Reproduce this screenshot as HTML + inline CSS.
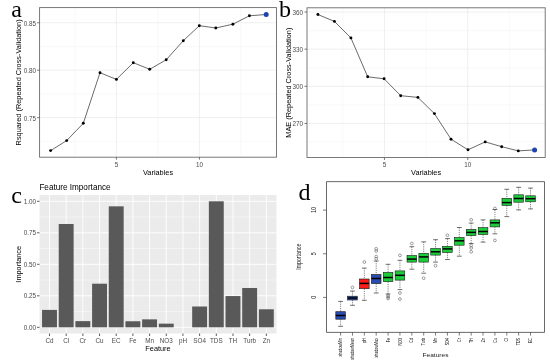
<!DOCTYPE html>
<html><head><meta charset="utf-8"><style>
html,body{margin:0;padding:0;background:#fff;}
body{width:550px;height:363px;overflow:hidden;font-family:"Liberation Sans", sans-serif;}
svg{display:block;will-change:transform;filter:blur(0.3px);}
</style></head><body>
<svg width="550" height="363" viewBox="0 0 550 363">
<rect x="0" y="0" width="550" height="363" fill="#fff"/>
<line x1="74.90" y1="7.60" x2="74.90" y2="157.20" stroke="#f2f2f2" stroke-width="0.5"/>
<line x1="157.90" y1="7.60" x2="157.90" y2="157.20" stroke="#f2f2f2" stroke-width="0.5"/>
<line x1="240.90" y1="7.60" x2="240.90" y2="157.20" stroke="#f2f2f2" stroke-width="0.5"/>
<line x1="39.60" y1="141.38" x2="276.50" y2="141.38" stroke="#f2f2f2" stroke-width="0.5"/>
<line x1="39.60" y1="93.93" x2="276.50" y2="93.93" stroke="#f2f2f2" stroke-width="0.5"/>
<line x1="39.60" y1="46.48" x2="276.50" y2="46.48" stroke="#f2f2f2" stroke-width="0.5"/>
<line x1="116.40" y1="7.60" x2="116.40" y2="157.20" stroke="#ebebeb" stroke-width="0.8"/>
<line x1="199.40" y1="7.60" x2="199.40" y2="157.20" stroke="#ebebeb" stroke-width="0.8"/>
<line x1="39.60" y1="117.65" x2="276.50" y2="117.65" stroke="#ebebeb" stroke-width="0.8"/>
<line x1="39.60" y1="70.20" x2="276.50" y2="70.20" stroke="#ebebeb" stroke-width="0.8"/>
<line x1="39.60" y1="22.75" x2="276.50" y2="22.75" stroke="#ebebeb" stroke-width="0.8"/>
<polyline points="50.60,150.60 66.70,140.60 83.30,123.30 100.00,72.70 116.40,79.40 133.30,62.70 149.70,69.30 166.20,59.80 183.30,40.70 199.30,25.70 215.80,28.00 232.90,24.20 249.40,15.80 266.20,14.50" fill="none" stroke="#3a3a3a" stroke-width="0.75"/>
<circle cx="50.60" cy="150.60" r="1.45" fill="#000"/>
<circle cx="66.70" cy="140.60" r="1.45" fill="#000"/>
<circle cx="83.30" cy="123.30" r="1.45" fill="#000"/>
<circle cx="100.00" cy="72.70" r="1.45" fill="#000"/>
<circle cx="116.40" cy="79.40" r="1.45" fill="#000"/>
<circle cx="133.30" cy="62.70" r="1.45" fill="#000"/>
<circle cx="149.70" cy="69.30" r="1.45" fill="#000"/>
<circle cx="166.20" cy="59.80" r="1.45" fill="#000"/>
<circle cx="183.30" cy="40.70" r="1.45" fill="#000"/>
<circle cx="199.30" cy="25.70" r="1.45" fill="#000"/>
<circle cx="215.80" cy="28.00" r="1.45" fill="#000"/>
<circle cx="232.90" cy="24.20" r="1.45" fill="#000"/>
<circle cx="249.40" cy="15.80" r="1.45" fill="#000"/>
<circle cx="266.20" cy="14.50" r="2.5" fill="#1c45b2"/>
<rect x="39.60" y="7.60" width="236.90" height="149.60" fill="none" stroke="#6a6a6a" stroke-width="0.9"/>
<line x1="37.10" y1="117.65" x2="39.60" y2="117.65" stroke="#555" stroke-width="0.8"/>
<text x="36.00" y="118.05" font-size="6.3" fill="#4a4a4a" text-anchor="end" dominant-baseline="central" font-family='"Liberation Sans", sans-serif'>0.75</text>
<line x1="37.10" y1="70.20" x2="39.60" y2="70.20" stroke="#555" stroke-width="0.8"/>
<text x="36.00" y="70.60" font-size="6.3" fill="#4a4a4a" text-anchor="end" dominant-baseline="central" font-family='"Liberation Sans", sans-serif'>0.80</text>
<line x1="37.10" y1="22.75" x2="39.60" y2="22.75" stroke="#555" stroke-width="0.8"/>
<text x="36.00" y="23.15" font-size="6.3" fill="#4a4a4a" text-anchor="end" dominant-baseline="central" font-family='"Liberation Sans", sans-serif'>0.85</text>
<line x1="116.40" y1="157.20" x2="116.40" y2="159.70" stroke="#555" stroke-width="0.8"/>
<text x="116.40" y="164.20" font-size="6.3" fill="#4a4a4a" text-anchor="middle" dominant-baseline="central" font-family='"Liberation Sans", sans-serif'>5</text>
<line x1="199.40" y1="157.20" x2="199.40" y2="159.70" stroke="#555" stroke-width="0.8"/>
<text x="199.40" y="164.20" font-size="6.3" fill="#4a4a4a" text-anchor="middle" dominant-baseline="central" font-family='"Liberation Sans", sans-serif'>10</text>
<text x="158.05" y="172.50" font-size="7.35" fill="#000" text-anchor="middle" dominant-baseline="central" font-family='"Liberation Sans", sans-serif'>Variables</text>
<text x="18.10" y="82.40" font-size="7.35" fill="#000" text-anchor="middle" dominant-baseline="central" font-family='"Liberation Sans", sans-serif' transform="rotate(-90 18.1 82.39999999999999)">Rsquared (Repeated Cross-Validation)</text>
<line x1="342.79" y1="7.80" x2="342.79" y2="157.50" stroke="#f2f2f2" stroke-width="0.5"/>
<line x1="426.09" y1="7.80" x2="426.09" y2="157.50" stroke="#f2f2f2" stroke-width="0.5"/>
<line x1="509.39" y1="7.80" x2="509.39" y2="157.50" stroke="#f2f2f2" stroke-width="0.5"/>
<line x1="307.00" y1="142.01" x2="545.20" y2="142.01" stroke="#f2f2f2" stroke-width="0.5"/>
<line x1="307.00" y1="104.87" x2="545.20" y2="104.87" stroke="#f2f2f2" stroke-width="0.5"/>
<line x1="307.00" y1="67.73" x2="545.20" y2="67.73" stroke="#f2f2f2" stroke-width="0.5"/>
<line x1="307.00" y1="30.59" x2="545.20" y2="30.59" stroke="#f2f2f2" stroke-width="0.5"/>
<line x1="384.44" y1="7.80" x2="384.44" y2="157.50" stroke="#ebebeb" stroke-width="0.8"/>
<line x1="467.74" y1="7.80" x2="467.74" y2="157.50" stroke="#ebebeb" stroke-width="0.8"/>
<line x1="307.00" y1="123.44" x2="545.20" y2="123.44" stroke="#ebebeb" stroke-width="0.8"/>
<line x1="307.00" y1="86.30" x2="545.20" y2="86.30" stroke="#ebebeb" stroke-width="0.8"/>
<line x1="307.00" y1="49.16" x2="545.20" y2="49.16" stroke="#ebebeb" stroke-width="0.8"/>
<line x1="307.00" y1="12.02" x2="545.20" y2="12.02" stroke="#ebebeb" stroke-width="0.8"/>
<polyline points="317.90,14.50 334.40,21.40 350.90,37.90 367.70,76.80 384.10,78.80 400.70,95.70 417.90,97.40 434.40,113.60 451.00,139.20 468.00,149.80 485.20,141.90 501.70,146.70 518.30,150.90 534.60,149.90" fill="none" stroke="#3a3a3a" stroke-width="0.75"/>
<circle cx="317.90" cy="14.50" r="1.45" fill="#000"/>
<circle cx="334.40" cy="21.40" r="1.45" fill="#000"/>
<circle cx="350.90" cy="37.90" r="1.45" fill="#000"/>
<circle cx="367.70" cy="76.80" r="1.45" fill="#000"/>
<circle cx="384.10" cy="78.80" r="1.45" fill="#000"/>
<circle cx="400.70" cy="95.70" r="1.45" fill="#000"/>
<circle cx="417.90" cy="97.40" r="1.45" fill="#000"/>
<circle cx="434.40" cy="113.60" r="1.45" fill="#000"/>
<circle cx="451.00" cy="139.20" r="1.45" fill="#000"/>
<circle cx="468.00" cy="149.80" r="1.45" fill="#000"/>
<circle cx="485.20" cy="141.90" r="1.45" fill="#000"/>
<circle cx="501.70" cy="146.70" r="1.45" fill="#000"/>
<circle cx="518.30" cy="150.90" r="1.45" fill="#000"/>
<circle cx="534.60" cy="149.90" r="2.5" fill="#1c45b2"/>
<rect x="307.00" y="7.80" width="238.20" height="149.70" fill="none" stroke="#6a6a6a" stroke-width="0.9"/>
<line x1="304.50" y1="123.44" x2="307.00" y2="123.44" stroke="#555" stroke-width="0.8"/>
<text x="303.10" y="123.84" font-size="6.3" fill="#4a4a4a" text-anchor="end" dominant-baseline="central" font-family='"Liberation Sans", sans-serif'>270</text>
<line x1="304.50" y1="86.30" x2="307.00" y2="86.30" stroke="#555" stroke-width="0.8"/>
<text x="303.10" y="86.70" font-size="6.3" fill="#4a4a4a" text-anchor="end" dominant-baseline="central" font-family='"Liberation Sans", sans-serif'>300</text>
<line x1="304.50" y1="49.16" x2="307.00" y2="49.16" stroke="#555" stroke-width="0.8"/>
<text x="303.10" y="49.56" font-size="6.3" fill="#4a4a4a" text-anchor="end" dominant-baseline="central" font-family='"Liberation Sans", sans-serif'>330</text>
<line x1="304.50" y1="12.02" x2="307.00" y2="12.02" stroke="#555" stroke-width="0.8"/>
<text x="303.10" y="12.42" font-size="6.3" fill="#4a4a4a" text-anchor="end" dominant-baseline="central" font-family='"Liberation Sans", sans-serif'>360</text>
<line x1="384.44" y1="157.50" x2="384.44" y2="160.00" stroke="#555" stroke-width="0.8"/>
<text x="384.44" y="164.50" font-size="6.3" fill="#4a4a4a" text-anchor="middle" dominant-baseline="central" font-family='"Liberation Sans", sans-serif'>5</text>
<line x1="467.74" y1="157.50" x2="467.74" y2="160.00" stroke="#555" stroke-width="0.8"/>
<text x="467.74" y="164.50" font-size="6.3" fill="#4a4a4a" text-anchor="middle" dominant-baseline="central" font-family='"Liberation Sans", sans-serif'>10</text>
<text x="426.10" y="172.80" font-size="7.35" fill="#000" text-anchor="middle" dominant-baseline="central" font-family='"Liberation Sans", sans-serif'>Variables</text>
<text x="288.30" y="82.65" font-size="7.35" fill="#000" text-anchor="middle" dominant-baseline="central" font-family='"Liberation Sans", sans-serif' transform="rotate(-90 288.3 82.65)">MAE (Repeated Cross-Validation)</text>
<rect x="39.50" y="195.00" width="237.00" height="138.50" fill="#ebebeb" stroke="none" stroke-width="0"/>
<line x1="39.50" y1="311.55" x2="276.50" y2="311.55" stroke="#f8f8f8" stroke-width="0.6"/>
<line x1="39.50" y1="280.05" x2="276.50" y2="280.05" stroke="#f8f8f8" stroke-width="0.6"/>
<line x1="39.50" y1="248.55" x2="276.50" y2="248.55" stroke="#f8f8f8" stroke-width="0.6"/>
<line x1="39.50" y1="217.05" x2="276.50" y2="217.05" stroke="#f8f8f8" stroke-width="0.6"/>
<line x1="39.50" y1="327.30" x2="276.50" y2="327.30" stroke="#ffffff" stroke-width="0.9"/>
<line x1="39.50" y1="295.80" x2="276.50" y2="295.80" stroke="#ffffff" stroke-width="0.9"/>
<line x1="39.50" y1="264.30" x2="276.50" y2="264.30" stroke="#ffffff" stroke-width="0.9"/>
<line x1="39.50" y1="232.80" x2="276.50" y2="232.80" stroke="#ffffff" stroke-width="0.9"/>
<line x1="39.50" y1="201.30" x2="276.50" y2="201.30" stroke="#ffffff" stroke-width="0.9"/>
<line x1="49.50" y1="195.00" x2="49.50" y2="333.50" stroke="#ffffff" stroke-width="0.9"/>
<line x1="66.18" y1="195.00" x2="66.18" y2="333.50" stroke="#ffffff" stroke-width="0.9"/>
<line x1="82.86" y1="195.00" x2="82.86" y2="333.50" stroke="#ffffff" stroke-width="0.9"/>
<line x1="99.54" y1="195.00" x2="99.54" y2="333.50" stroke="#ffffff" stroke-width="0.9"/>
<line x1="116.22" y1="195.00" x2="116.22" y2="333.50" stroke="#ffffff" stroke-width="0.9"/>
<line x1="132.90" y1="195.00" x2="132.90" y2="333.50" stroke="#ffffff" stroke-width="0.9"/>
<line x1="149.58" y1="195.00" x2="149.58" y2="333.50" stroke="#ffffff" stroke-width="0.9"/>
<line x1="166.26" y1="195.00" x2="166.26" y2="333.50" stroke="#ffffff" stroke-width="0.9"/>
<line x1="182.94" y1="195.00" x2="182.94" y2="333.50" stroke="#ffffff" stroke-width="0.9"/>
<line x1="199.62" y1="195.00" x2="199.62" y2="333.50" stroke="#ffffff" stroke-width="0.9"/>
<line x1="216.30" y1="195.00" x2="216.30" y2="333.50" stroke="#ffffff" stroke-width="0.9"/>
<line x1="232.98" y1="195.00" x2="232.98" y2="333.50" stroke="#ffffff" stroke-width="0.9"/>
<line x1="249.66" y1="195.00" x2="249.66" y2="333.50" stroke="#ffffff" stroke-width="0.9"/>
<line x1="266.34" y1="195.00" x2="266.34" y2="333.50" stroke="#ffffff" stroke-width="0.9"/>
<rect x="42.05" y="309.91" width="14.90" height="17.39" fill="#595959" stroke="none" stroke-width="0"/>
<rect x="58.73" y="223.98" width="14.90" height="103.32" fill="#595959" stroke="none" stroke-width="0"/>
<rect x="75.41" y="321.13" width="14.90" height="6.17" fill="#595959" stroke="none" stroke-width="0"/>
<rect x="92.09" y="283.70" width="14.90" height="43.60" fill="#595959" stroke="none" stroke-width="0"/>
<rect x="108.77" y="206.34" width="14.90" height="120.96" fill="#595959" stroke="none" stroke-width="0"/>
<rect x="125.45" y="321.25" width="14.90" height="6.05" fill="#595959" stroke="none" stroke-width="0"/>
<rect x="142.13" y="319.36" width="14.90" height="7.94" fill="#595959" stroke="none" stroke-width="0"/>
<rect x="158.81" y="323.65" width="14.90" height="3.65" fill="#595959" stroke="none" stroke-width="0"/>
<rect x="192.17" y="306.51" width="14.90" height="20.79" fill="#595959" stroke="none" stroke-width="0"/>
<rect x="208.85" y="201.30" width="14.90" height="126.00" fill="#595959" stroke="none" stroke-width="0"/>
<rect x="225.53" y="296.05" width="14.90" height="31.25" fill="#595959" stroke="none" stroke-width="0"/>
<rect x="242.21" y="287.99" width="14.90" height="39.31" fill="#595959" stroke="none" stroke-width="0"/>
<rect x="258.89" y="309.28" width="14.90" height="18.02" fill="#595959" stroke="none" stroke-width="0"/>
<line x1="37.00" y1="327.30" x2="39.50" y2="327.30" stroke="#333" stroke-width="0.8"/>
<text x="36.00" y="327.30" font-size="6.3" fill="#4a4a4a" text-anchor="end" dominant-baseline="central" font-family='"Liberation Sans", sans-serif'>0.00</text>
<line x1="37.00" y1="295.80" x2="39.50" y2="295.80" stroke="#333" stroke-width="0.8"/>
<text x="36.00" y="295.80" font-size="6.3" fill="#4a4a4a" text-anchor="end" dominant-baseline="central" font-family='"Liberation Sans", sans-serif'>0.25</text>
<line x1="37.00" y1="264.30" x2="39.50" y2="264.30" stroke="#333" stroke-width="0.8"/>
<text x="36.00" y="264.30" font-size="6.3" fill="#4a4a4a" text-anchor="end" dominant-baseline="central" font-family='"Liberation Sans", sans-serif'>0.50</text>
<line x1="37.00" y1="232.80" x2="39.50" y2="232.80" stroke="#333" stroke-width="0.8"/>
<text x="36.00" y="232.80" font-size="6.3" fill="#4a4a4a" text-anchor="end" dominant-baseline="central" font-family='"Liberation Sans", sans-serif'>0.75</text>
<line x1="37.00" y1="201.30" x2="39.50" y2="201.30" stroke="#333" stroke-width="0.8"/>
<text x="36.00" y="201.30" font-size="6.3" fill="#4a4a4a" text-anchor="end" dominant-baseline="central" font-family='"Liberation Sans", sans-serif'>1.00</text>
<line x1="49.50" y1="333.50" x2="49.50" y2="336.00" stroke="#333" stroke-width="0.8"/>
<text x="49.50" y="340.50" font-size="6.3" fill="#4a4a4a" text-anchor="middle" dominant-baseline="central" font-family='"Liberation Sans", sans-serif'>Cd</text>
<line x1="66.18" y1="333.50" x2="66.18" y2="336.00" stroke="#333" stroke-width="0.8"/>
<text x="66.18" y="340.50" font-size="6.3" fill="#4a4a4a" text-anchor="middle" dominant-baseline="central" font-family='"Liberation Sans", sans-serif'>Cl</text>
<line x1="82.86" y1="333.50" x2="82.86" y2="336.00" stroke="#333" stroke-width="0.8"/>
<text x="82.86" y="340.50" font-size="6.3" fill="#4a4a4a" text-anchor="middle" dominant-baseline="central" font-family='"Liberation Sans", sans-serif'>Cr</text>
<line x1="99.54" y1="333.50" x2="99.54" y2="336.00" stroke="#333" stroke-width="0.8"/>
<text x="99.54" y="340.50" font-size="6.3" fill="#4a4a4a" text-anchor="middle" dominant-baseline="central" font-family='"Liberation Sans", sans-serif'>Cu</text>
<line x1="116.22" y1="333.50" x2="116.22" y2="336.00" stroke="#333" stroke-width="0.8"/>
<text x="116.22" y="340.50" font-size="6.3" fill="#4a4a4a" text-anchor="middle" dominant-baseline="central" font-family='"Liberation Sans", sans-serif'>EC</text>
<line x1="132.90" y1="333.50" x2="132.90" y2="336.00" stroke="#333" stroke-width="0.8"/>
<text x="132.90" y="340.50" font-size="6.3" fill="#4a4a4a" text-anchor="middle" dominant-baseline="central" font-family='"Liberation Sans", sans-serif'>Fe</text>
<line x1="149.58" y1="333.50" x2="149.58" y2="336.00" stroke="#333" stroke-width="0.8"/>
<text x="149.58" y="340.50" font-size="6.3" fill="#4a4a4a" text-anchor="middle" dominant-baseline="central" font-family='"Liberation Sans", sans-serif'>Mn</text>
<line x1="166.26" y1="333.50" x2="166.26" y2="336.00" stroke="#333" stroke-width="0.8"/>
<text x="166.26" y="340.50" font-size="6.3" fill="#4a4a4a" text-anchor="middle" dominant-baseline="central" font-family='"Liberation Sans", sans-serif'>NO3</text>
<line x1="182.94" y1="333.50" x2="182.94" y2="336.00" stroke="#333" stroke-width="0.8"/>
<text x="182.94" y="340.50" font-size="6.3" fill="#4a4a4a" text-anchor="middle" dominant-baseline="central" font-family='"Liberation Sans", sans-serif'>pH</text>
<line x1="199.62" y1="333.50" x2="199.62" y2="336.00" stroke="#333" stroke-width="0.8"/>
<text x="199.62" y="340.50" font-size="6.3" fill="#4a4a4a" text-anchor="middle" dominant-baseline="central" font-family='"Liberation Sans", sans-serif'>SO4</text>
<line x1="216.30" y1="333.50" x2="216.30" y2="336.00" stroke="#333" stroke-width="0.8"/>
<text x="216.30" y="340.50" font-size="6.3" fill="#4a4a4a" text-anchor="middle" dominant-baseline="central" font-family='"Liberation Sans", sans-serif'>TDS</text>
<line x1="232.98" y1="333.50" x2="232.98" y2="336.00" stroke="#333" stroke-width="0.8"/>
<text x="232.98" y="340.50" font-size="6.3" fill="#4a4a4a" text-anchor="middle" dominant-baseline="central" font-family='"Liberation Sans", sans-serif'>TH</text>
<line x1="249.66" y1="333.50" x2="249.66" y2="336.00" stroke="#333" stroke-width="0.8"/>
<text x="249.66" y="340.50" font-size="6.3" fill="#4a4a4a" text-anchor="middle" dominant-baseline="central" font-family='"Liberation Sans", sans-serif'>Turb</text>
<line x1="266.34" y1="333.50" x2="266.34" y2="336.00" stroke="#333" stroke-width="0.8"/>
<text x="266.34" y="340.50" font-size="6.3" fill="#4a4a4a" text-anchor="middle" dominant-baseline="central" font-family='"Liberation Sans", sans-serif'>Zn</text>
<text x="158.00" y="348.00" font-size="7.35" fill="#000" text-anchor="middle" dominant-baseline="central" font-family='"Liberation Sans", sans-serif'>Feature</text>
<text x="18.60" y="264.25" font-size="7.35" fill="#000" text-anchor="middle" dominant-baseline="central" font-family='"Liberation Sans", sans-serif' transform="rotate(-90 18.6 264.25)">Importance</text>
<text x="39.40" y="187.70" font-size="8.16" fill="#000" text-anchor="start" dominant-baseline="central" font-family='"Liberation Sans", sans-serif'>Feature Importance</text>
<line x1="340.60" y1="301.40" x2="340.60" y2="311.70" stroke="#333" stroke-width="0.6" stroke-dasharray="1.2,1"/>
<line x1="340.60" y1="319.20" x2="340.60" y2="326.30" stroke="#333" stroke-width="0.6" stroke-dasharray="1.2,1"/>
<line x1="338.20" y1="301.40" x2="343.00" y2="301.40" stroke="#333" stroke-width="0.7"/>
<line x1="338.20" y1="326.30" x2="343.00" y2="326.30" stroke="#333" stroke-width="0.7"/>
<rect x="335.80" y="311.70" width="9.60" height="7.50" fill="#2a4bb0" stroke="#1a1a1a" stroke-width="0.6"/>
<line x1="335.80" y1="315.50" x2="345.40" y2="315.50" stroke="#000" stroke-width="1.5"/>
<line x1="352.47" y1="291.10" x2="352.47" y2="296.20" stroke="#333" stroke-width="0.6" stroke-dasharray="1.2,1"/>
<line x1="352.47" y1="300.00" x2="352.47" y2="305.30" stroke="#333" stroke-width="0.6" stroke-dasharray="1.2,1"/>
<line x1="350.07" y1="291.10" x2="354.87" y2="291.10" stroke="#333" stroke-width="0.7"/>
<line x1="350.07" y1="305.30" x2="354.87" y2="305.30" stroke="#333" stroke-width="0.7"/>
<rect x="347.67" y="296.20" width="9.60" height="3.80" fill="#2a4bb0" stroke="#1a1a1a" stroke-width="0.6"/>
<line x1="347.67" y1="298.00" x2="357.27" y2="298.00" stroke="#000" stroke-width="1.5"/>
<circle cx="352.47" cy="287.40" r="1.4" fill="none" stroke="#444" stroke-width="0.5"/>
<line x1="364.34" y1="268.10" x2="364.34" y2="279.00" stroke="#333" stroke-width="0.6" stroke-dasharray="1.2,1"/>
<line x1="364.34" y1="288.70" x2="364.34" y2="300.30" stroke="#333" stroke-width="0.6" stroke-dasharray="1.2,1"/>
<line x1="361.94" y1="268.10" x2="366.74" y2="268.10" stroke="#333" stroke-width="0.7"/>
<line x1="361.94" y1="300.30" x2="366.74" y2="300.30" stroke="#333" stroke-width="0.7"/>
<rect x="359.54" y="279.00" width="9.60" height="9.70" fill="#ff1a1a" stroke="#1a1a1a" stroke-width="0.6"/>
<line x1="359.54" y1="283.40" x2="369.14" y2="283.40" stroke="#000" stroke-width="1.5"/>
<circle cx="364.34" cy="262.00" r="1.4" fill="none" stroke="#444" stroke-width="0.5"/>
<line x1="376.21" y1="261.00" x2="376.21" y2="274.50" stroke="#333" stroke-width="0.6" stroke-dasharray="1.2,1"/>
<line x1="376.21" y1="283.60" x2="376.21" y2="293.00" stroke="#333" stroke-width="0.6" stroke-dasharray="1.2,1"/>
<line x1="373.81" y1="261.00" x2="378.61" y2="261.00" stroke="#333" stroke-width="0.7"/>
<line x1="373.81" y1="293.00" x2="378.61" y2="293.00" stroke="#333" stroke-width="0.7"/>
<rect x="371.41" y="274.50" width="9.60" height="9.10" fill="#2a4bb0" stroke="#1a1a1a" stroke-width="0.6"/>
<line x1="371.41" y1="278.50" x2="381.01" y2="278.50" stroke="#000" stroke-width="1.5"/>
<circle cx="376.21" cy="248.80" r="1.4" fill="none" stroke="#444" stroke-width="0.5"/>
<circle cx="376.21" cy="251.00" r="1.4" fill="none" stroke="#444" stroke-width="0.5"/>
<circle cx="376.21" cy="256.50" r="1.4" fill="none" stroke="#444" stroke-width="0.5"/>
<circle cx="376.21" cy="258.80" r="1.4" fill="none" stroke="#444" stroke-width="0.5"/>
<line x1="388.08" y1="264.30" x2="388.08" y2="272.40" stroke="#333" stroke-width="0.6" stroke-dasharray="1.2,1"/>
<line x1="388.08" y1="281.70" x2="388.08" y2="294.00" stroke="#333" stroke-width="0.6" stroke-dasharray="1.2,1"/>
<line x1="385.68" y1="264.30" x2="390.48" y2="264.30" stroke="#333" stroke-width="0.7"/>
<line x1="385.68" y1="294.00" x2="390.48" y2="294.00" stroke="#333" stroke-width="0.7"/>
<rect x="383.28" y="272.40" width="9.60" height="9.30" fill="#1ccc3a" stroke="#1a1a1a" stroke-width="0.6"/>
<line x1="383.28" y1="277.50" x2="392.88" y2="277.50" stroke="#000" stroke-width="1.5"/>
<circle cx="388.08" cy="295.50" r="1.4" fill="none" stroke="#444" stroke-width="0.5"/>
<circle cx="388.08" cy="297.00" r="1.4" fill="none" stroke="#444" stroke-width="0.5"/>
<circle cx="388.08" cy="298.50" r="1.4" fill="none" stroke="#444" stroke-width="0.5"/>
<line x1="399.95" y1="260.30" x2="399.95" y2="270.90" stroke="#333" stroke-width="0.6" stroke-dasharray="1.2,1"/>
<line x1="399.95" y1="280.10" x2="399.95" y2="289.60" stroke="#333" stroke-width="0.6" stroke-dasharray="1.2,1"/>
<line x1="397.55" y1="260.30" x2="402.35" y2="260.30" stroke="#333" stroke-width="0.7"/>
<line x1="397.55" y1="289.60" x2="402.35" y2="289.60" stroke="#333" stroke-width="0.7"/>
<rect x="395.15" y="270.90" width="9.60" height="9.20" fill="#1ccc3a" stroke="#1a1a1a" stroke-width="0.6"/>
<line x1="395.15" y1="275.30" x2="404.75" y2="275.30" stroke="#000" stroke-width="1.5"/>
<circle cx="399.95" cy="255.40" r="1.4" fill="none" stroke="#444" stroke-width="0.5"/>
<circle cx="399.95" cy="293.00" r="1.4" fill="none" stroke="#444" stroke-width="0.5"/>
<circle cx="399.95" cy="299.00" r="1.4" fill="none" stroke="#444" stroke-width="0.5"/>
<line x1="411.82" y1="246.70" x2="411.82" y2="255.50" stroke="#333" stroke-width="0.6" stroke-dasharray="1.2,1"/>
<line x1="411.82" y1="262.10" x2="411.82" y2="269.20" stroke="#333" stroke-width="0.6" stroke-dasharray="1.2,1"/>
<line x1="409.42" y1="246.70" x2="414.22" y2="246.70" stroke="#333" stroke-width="0.7"/>
<line x1="409.42" y1="269.20" x2="414.22" y2="269.20" stroke="#333" stroke-width="0.7"/>
<rect x="407.02" y="255.50" width="9.60" height="6.60" fill="#1ccc3a" stroke="#1a1a1a" stroke-width="0.6"/>
<line x1="407.02" y1="259.10" x2="416.62" y2="259.10" stroke="#000" stroke-width="1.5"/>
<circle cx="411.82" cy="243.50" r="1.4" fill="none" stroke="#444" stroke-width="0.5"/>
<line x1="423.69" y1="241.90" x2="423.69" y2="253.30" stroke="#333" stroke-width="0.6" stroke-dasharray="1.2,1"/>
<line x1="423.69" y1="262.10" x2="423.69" y2="273.20" stroke="#333" stroke-width="0.6" stroke-dasharray="1.2,1"/>
<line x1="421.29" y1="241.90" x2="426.09" y2="241.90" stroke="#333" stroke-width="0.7"/>
<line x1="421.29" y1="273.20" x2="426.09" y2="273.20" stroke="#333" stroke-width="0.7"/>
<rect x="418.89" y="253.30" width="9.60" height="8.80" fill="#1ccc3a" stroke="#1a1a1a" stroke-width="0.6"/>
<line x1="418.89" y1="256.90" x2="428.49" y2="256.90" stroke="#000" stroke-width="1.5"/>
<circle cx="423.69" cy="278.20" r="1.4" fill="none" stroke="#444" stroke-width="0.5"/>
<line x1="435.56" y1="239.70" x2="435.56" y2="248.50" stroke="#333" stroke-width="0.6" stroke-dasharray="1.2,1"/>
<line x1="435.56" y1="255.10" x2="435.56" y2="262.10" stroke="#333" stroke-width="0.6" stroke-dasharray="1.2,1"/>
<line x1="433.16" y1="239.70" x2="437.96" y2="239.70" stroke="#333" stroke-width="0.7"/>
<line x1="433.16" y1="262.10" x2="437.96" y2="262.10" stroke="#333" stroke-width="0.7"/>
<rect x="430.76" y="248.50" width="9.60" height="6.60" fill="#1ccc3a" stroke="#1a1a1a" stroke-width="0.6"/>
<line x1="430.76" y1="251.80" x2="440.36" y2="251.80" stroke="#000" stroke-width="1.5"/>
<circle cx="435.56" cy="265.70" r="1.4" fill="none" stroke="#444" stroke-width="0.5"/>
<line x1="447.43" y1="238.60" x2="447.43" y2="246.30" stroke="#333" stroke-width="0.6" stroke-dasharray="1.2,1"/>
<line x1="447.43" y1="252.50" x2="447.43" y2="259.50" stroke="#333" stroke-width="0.6" stroke-dasharray="1.2,1"/>
<line x1="445.03" y1="238.60" x2="449.83" y2="238.60" stroke="#333" stroke-width="0.7"/>
<line x1="445.03" y1="259.50" x2="449.83" y2="259.50" stroke="#333" stroke-width="0.7"/>
<rect x="442.63" y="246.30" width="9.60" height="6.20" fill="#1ccc3a" stroke="#1a1a1a" stroke-width="0.6"/>
<line x1="442.63" y1="248.90" x2="452.23" y2="248.90" stroke="#000" stroke-width="1.5"/>
<circle cx="447.43" cy="235.30" r="1.4" fill="none" stroke="#444" stroke-width="0.5"/>
<line x1="459.30" y1="227.50" x2="459.30" y2="237.50" stroke="#333" stroke-width="0.6" stroke-dasharray="1.2,1"/>
<line x1="459.30" y1="245.20" x2="459.30" y2="256.20" stroke="#333" stroke-width="0.6" stroke-dasharray="1.2,1"/>
<line x1="456.90" y1="227.50" x2="461.70" y2="227.50" stroke="#333" stroke-width="0.7"/>
<line x1="456.90" y1="256.20" x2="461.70" y2="256.20" stroke="#333" stroke-width="0.7"/>
<rect x="454.50" y="237.50" width="9.60" height="7.70" fill="#1ccc3a" stroke="#1a1a1a" stroke-width="0.6"/>
<line x1="454.50" y1="240.80" x2="464.10" y2="240.80" stroke="#000" stroke-width="1.5"/>
<line x1="471.17" y1="223.10" x2="471.17" y2="229.40" stroke="#333" stroke-width="0.6" stroke-dasharray="1.2,1"/>
<line x1="471.17" y1="235.60" x2="471.17" y2="243.50" stroke="#333" stroke-width="0.6" stroke-dasharray="1.2,1"/>
<line x1="468.77" y1="223.10" x2="473.57" y2="223.10" stroke="#333" stroke-width="0.7"/>
<line x1="468.77" y1="243.50" x2="473.57" y2="243.50" stroke="#333" stroke-width="0.7"/>
<rect x="466.37" y="229.40" width="9.60" height="6.20" fill="#1ccc3a" stroke="#1a1a1a" stroke-width="0.6"/>
<line x1="466.37" y1="232.40" x2="475.97" y2="232.40" stroke="#000" stroke-width="1.5"/>
<circle cx="471.17" cy="219.80" r="1.4" fill="none" stroke="#444" stroke-width="0.5"/>
<circle cx="471.17" cy="245.50" r="1.4" fill="none" stroke="#444" stroke-width="0.5"/>
<circle cx="471.17" cy="248.00" r="1.4" fill="none" stroke="#444" stroke-width="0.5"/>
<circle cx="471.17" cy="251.80" r="1.4" fill="none" stroke="#444" stroke-width="0.5"/>
<line x1="483.04" y1="219.90" x2="483.04" y2="227.60" stroke="#333" stroke-width="0.6" stroke-dasharray="1.2,1"/>
<line x1="483.04" y1="234.60" x2="483.04" y2="242.10" stroke="#333" stroke-width="0.6" stroke-dasharray="1.2,1"/>
<line x1="480.64" y1="219.90" x2="485.44" y2="219.90" stroke="#333" stroke-width="0.7"/>
<line x1="480.64" y1="242.10" x2="485.44" y2="242.10" stroke="#333" stroke-width="0.7"/>
<rect x="478.24" y="227.60" width="9.60" height="7.00" fill="#1ccc3a" stroke="#1a1a1a" stroke-width="0.6"/>
<line x1="478.24" y1="231.50" x2="487.84" y2="231.50" stroke="#000" stroke-width="1.5"/>
<line x1="494.91" y1="209.50" x2="494.91" y2="219.90" stroke="#333" stroke-width="0.6" stroke-dasharray="1.2,1"/>
<line x1="494.91" y1="226.90" x2="494.91" y2="233.80" stroke="#333" stroke-width="0.6" stroke-dasharray="1.2,1"/>
<line x1="492.51" y1="209.50" x2="497.31" y2="209.50" stroke="#333" stroke-width="0.7"/>
<line x1="492.51" y1="233.80" x2="497.31" y2="233.80" stroke="#333" stroke-width="0.7"/>
<rect x="490.11" y="219.90" width="9.60" height="7.00" fill="#1ccc3a" stroke="#1a1a1a" stroke-width="0.6"/>
<line x1="490.11" y1="222.80" x2="499.71" y2="222.80" stroke="#000" stroke-width="1.5"/>
<circle cx="494.91" cy="208.50" r="1.4" fill="none" stroke="#444" stroke-width="0.5"/>
<circle cx="494.91" cy="240.40" r="1.4" fill="none" stroke="#444" stroke-width="0.5"/>
<line x1="506.78" y1="189.30" x2="506.78" y2="198.30" stroke="#333" stroke-width="0.6" stroke-dasharray="1.2,1"/>
<line x1="506.78" y1="205.50" x2="506.78" y2="216.60" stroke="#333" stroke-width="0.6" stroke-dasharray="1.2,1"/>
<line x1="504.38" y1="189.30" x2="509.18" y2="189.30" stroke="#333" stroke-width="0.7"/>
<line x1="504.38" y1="216.60" x2="509.18" y2="216.60" stroke="#333" stroke-width="0.7"/>
<rect x="501.98" y="198.30" width="9.60" height="7.20" fill="#1ccc3a" stroke="#1a1a1a" stroke-width="0.6"/>
<line x1="501.98" y1="202.60" x2="511.58" y2="202.60" stroke="#000" stroke-width="1.5"/>
<line x1="518.65" y1="187.30" x2="518.65" y2="194.80" stroke="#333" stroke-width="0.6" stroke-dasharray="1.2,1"/>
<line x1="518.65" y1="202.20" x2="518.65" y2="209.90" stroke="#333" stroke-width="0.6" stroke-dasharray="1.2,1"/>
<line x1="516.25" y1="187.30" x2="521.05" y2="187.30" stroke="#333" stroke-width="0.7"/>
<line x1="516.25" y1="209.90" x2="521.05" y2="209.90" stroke="#333" stroke-width="0.7"/>
<rect x="513.85" y="194.80" width="9.60" height="7.40" fill="#1ccc3a" stroke="#1a1a1a" stroke-width="0.6"/>
<line x1="513.85" y1="198.50" x2="523.45" y2="198.50" stroke="#000" stroke-width="1.5"/>
<line x1="530.52" y1="188.10" x2="530.52" y2="195.80" stroke="#333" stroke-width="0.6" stroke-dasharray="1.2,1"/>
<line x1="530.52" y1="201.80" x2="530.52" y2="208.90" stroke="#333" stroke-width="0.6" stroke-dasharray="1.2,1"/>
<line x1="528.12" y1="188.10" x2="532.92" y2="188.10" stroke="#333" stroke-width="0.7"/>
<line x1="528.12" y1="208.90" x2="532.92" y2="208.90" stroke="#333" stroke-width="0.7"/>
<rect x="525.72" y="195.80" width="9.60" height="6.00" fill="#1ccc3a" stroke="#1a1a1a" stroke-width="0.6"/>
<line x1="525.72" y1="198.70" x2="535.32" y2="198.70" stroke="#000" stroke-width="1.5"/>
<rect x="326.60" y="181.70" width="217.80" height="150.60" fill="none" stroke="#444" stroke-width="0.8"/>
<line x1="323.00" y1="297.40" x2="326.60" y2="297.40" stroke="#444" stroke-width="0.7"/>
<text x="0" y="0" font-size="6.3" fill="#222" text-anchor="middle" dominant-baseline="central" font-family='"Liberation Sans", sans-serif' transform="translate(314.30 297.40) scale(1 0.84) rotate(-90)">0</text>
<line x1="323.00" y1="253.75" x2="326.60" y2="253.75" stroke="#444" stroke-width="0.7"/>
<text x="0" y="0" font-size="6.3" fill="#222" text-anchor="middle" dominant-baseline="central" font-family='"Liberation Sans", sans-serif' transform="translate(314.30 253.75) scale(1 0.84) rotate(-90)">5</text>
<line x1="323.00" y1="210.10" x2="326.60" y2="210.10" stroke="#444" stroke-width="0.7"/>
<text x="0" y="0" font-size="6.3" fill="#222" text-anchor="middle" dominant-baseline="central" font-family='"Liberation Sans", sans-serif' transform="translate(314.30 210.10) scale(1 0.84) rotate(-90)">10</text>
<line x1="340.60" y1="332.30" x2="340.60" y2="335.60" stroke="#444" stroke-width="0.7"/>
<text x="0" y="0" font-size="4.6" fill="#000" text-anchor="end" dominant-baseline="central" font-family='"Liberation Sans", sans-serif' transform="translate(340.60 338.00) scale(1 0.8) rotate(-90)">shadowMin</text>
<line x1="352.47" y1="332.30" x2="352.47" y2="335.60" stroke="#444" stroke-width="0.7"/>
<text x="0" y="0" font-size="4.6" fill="#000" text-anchor="end" dominant-baseline="central" font-family='"Liberation Sans", sans-serif' transform="translate(352.47 338.00) scale(1 0.8) rotate(-90)">shadowMean</text>
<line x1="364.34" y1="332.30" x2="364.34" y2="335.60" stroke="#444" stroke-width="0.7"/>
<text x="0" y="0" font-size="4.6" fill="#000" text-anchor="end" dominant-baseline="central" font-family='"Liberation Sans", sans-serif' transform="translate(364.34 338.00) scale(1 0.8) rotate(-90)">pH</text>
<line x1="376.21" y1="332.30" x2="376.21" y2="335.60" stroke="#444" stroke-width="0.7"/>
<text x="0" y="0" font-size="4.6" fill="#000" text-anchor="end" dominant-baseline="central" font-family='"Liberation Sans", sans-serif' transform="translate(376.21 338.00) scale(1 0.8) rotate(-90)">shadowMax</text>
<line x1="388.08" y1="332.30" x2="388.08" y2="335.60" stroke="#444" stroke-width="0.7"/>
<text x="0" y="0" font-size="4.6" fill="#000" text-anchor="end" dominant-baseline="central" font-family='"Liberation Sans", sans-serif' transform="translate(388.08 338.00) scale(1 0.8) rotate(-90)">Fe</text>
<line x1="399.95" y1="332.30" x2="399.95" y2="335.60" stroke="#444" stroke-width="0.7"/>
<text x="0" y="0" font-size="4.6" fill="#000" text-anchor="end" dominant-baseline="central" font-family='"Liberation Sans", sans-serif' transform="translate(399.95 338.00) scale(1 0.8) rotate(-90)">NO3</text>
<line x1="411.82" y1="332.30" x2="411.82" y2="335.60" stroke="#444" stroke-width="0.7"/>
<text x="0" y="0" font-size="4.6" fill="#000" text-anchor="end" dominant-baseline="central" font-family='"Liberation Sans", sans-serif' transform="translate(411.82 338.00) scale(1 0.8) rotate(-90)">Cd</text>
<line x1="423.69" y1="332.30" x2="423.69" y2="335.60" stroke="#444" stroke-width="0.7"/>
<text x="0" y="0" font-size="4.6" fill="#000" text-anchor="end" dominant-baseline="central" font-family='"Liberation Sans", sans-serif' transform="translate(423.69 338.00) scale(1 0.8) rotate(-90)">Turb</text>
<line x1="435.56" y1="332.30" x2="435.56" y2="335.60" stroke="#444" stroke-width="0.7"/>
<text x="0" y="0" font-size="4.6" fill="#000" text-anchor="end" dominant-baseline="central" font-family='"Liberation Sans", sans-serif' transform="translate(435.56 338.00) scale(1 0.8) rotate(-90)">Mn</text>
<line x1="447.43" y1="332.30" x2="447.43" y2="335.60" stroke="#444" stroke-width="0.7"/>
<text x="0" y="0" font-size="4.6" fill="#000" text-anchor="end" dominant-baseline="central" font-family='"Liberation Sans", sans-serif' transform="translate(447.43 338.00) scale(1 0.8) rotate(-90)">SO4</text>
<line x1="459.30" y1="332.30" x2="459.30" y2="335.60" stroke="#444" stroke-width="0.7"/>
<text x="0" y="0" font-size="4.6" fill="#000" text-anchor="end" dominant-baseline="central" font-family='"Liberation Sans", sans-serif' transform="translate(459.30 338.00) scale(1 0.8) rotate(-90)">Cr</text>
<line x1="471.17" y1="332.30" x2="471.17" y2="335.60" stroke="#444" stroke-width="0.7"/>
<text x="0" y="0" font-size="4.6" fill="#000" text-anchor="end" dominant-baseline="central" font-family='"Liberation Sans", sans-serif' transform="translate(471.17 338.00) scale(1 0.8) rotate(-90)">TH</text>
<line x1="483.04" y1="332.30" x2="483.04" y2="335.60" stroke="#444" stroke-width="0.7"/>
<text x="0" y="0" font-size="4.6" fill="#000" text-anchor="end" dominant-baseline="central" font-family='"Liberation Sans", sans-serif' transform="translate(483.04 338.00) scale(1 0.8) rotate(-90)">Zn</text>
<line x1="494.91" y1="332.30" x2="494.91" y2="335.60" stroke="#444" stroke-width="0.7"/>
<text x="0" y="0" font-size="4.6" fill="#000" text-anchor="end" dominant-baseline="central" font-family='"Liberation Sans", sans-serif' transform="translate(494.91 338.00) scale(1 0.8) rotate(-90)">Cu</text>
<line x1="506.78" y1="332.30" x2="506.78" y2="335.60" stroke="#444" stroke-width="0.7"/>
<text x="0" y="0" font-size="4.6" fill="#000" text-anchor="end" dominant-baseline="central" font-family='"Liberation Sans", sans-serif' transform="translate(506.78 338.00) scale(1 0.8) rotate(-90)">Cl</text>
<line x1="518.65" y1="332.30" x2="518.65" y2="335.60" stroke="#444" stroke-width="0.7"/>
<text x="0" y="0" font-size="4.6" fill="#000" text-anchor="end" dominant-baseline="central" font-family='"Liberation Sans", sans-serif' transform="translate(518.65 338.00) scale(1 0.8) rotate(-90)">TDS</text>
<line x1="530.52" y1="332.30" x2="530.52" y2="335.60" stroke="#444" stroke-width="0.7"/>
<text x="0" y="0" font-size="4.6" fill="#000" text-anchor="end" dominant-baseline="central" font-family='"Liberation Sans", sans-serif' transform="translate(530.52 338.00) scale(1 0.8) rotate(-90)">EC</text>
<text x="0" y="0" font-size="6.6" fill="#222" text-anchor="middle" dominant-baseline="central" font-family='"Liberation Sans", sans-serif' transform="translate(435.5 354.5) scale(1 0.85)">Features</text>
<text x="0" y="0" font-size="6.6" fill="#222" text-anchor="middle" dominant-baseline="central" font-family='"Liberation Sans", sans-serif' transform="translate(299.00 256.70) scale(1 0.79) rotate(-90)">Importance</text>
<text x="16.50" y="9.20" font-size="24" fill="#000" text-anchor="middle" dominant-baseline="central" font-family='"Liberation Serif", serif'>a</text>
<text x="285.00" y="8.50" font-size="24" fill="#000" text-anchor="middle" dominant-baseline="central" font-family='"Liberation Serif", serif'>b</text>
<text x="16.50" y="194.90" font-size="24" fill="#000" text-anchor="middle" dominant-baseline="central" font-family='"Liberation Serif", serif'>c</text>
<text x="304.50" y="192.30" font-size="24" fill="#000" text-anchor="middle" dominant-baseline="central" font-family='"Liberation Serif", serif'>d</text>
</svg>
</body></html>
